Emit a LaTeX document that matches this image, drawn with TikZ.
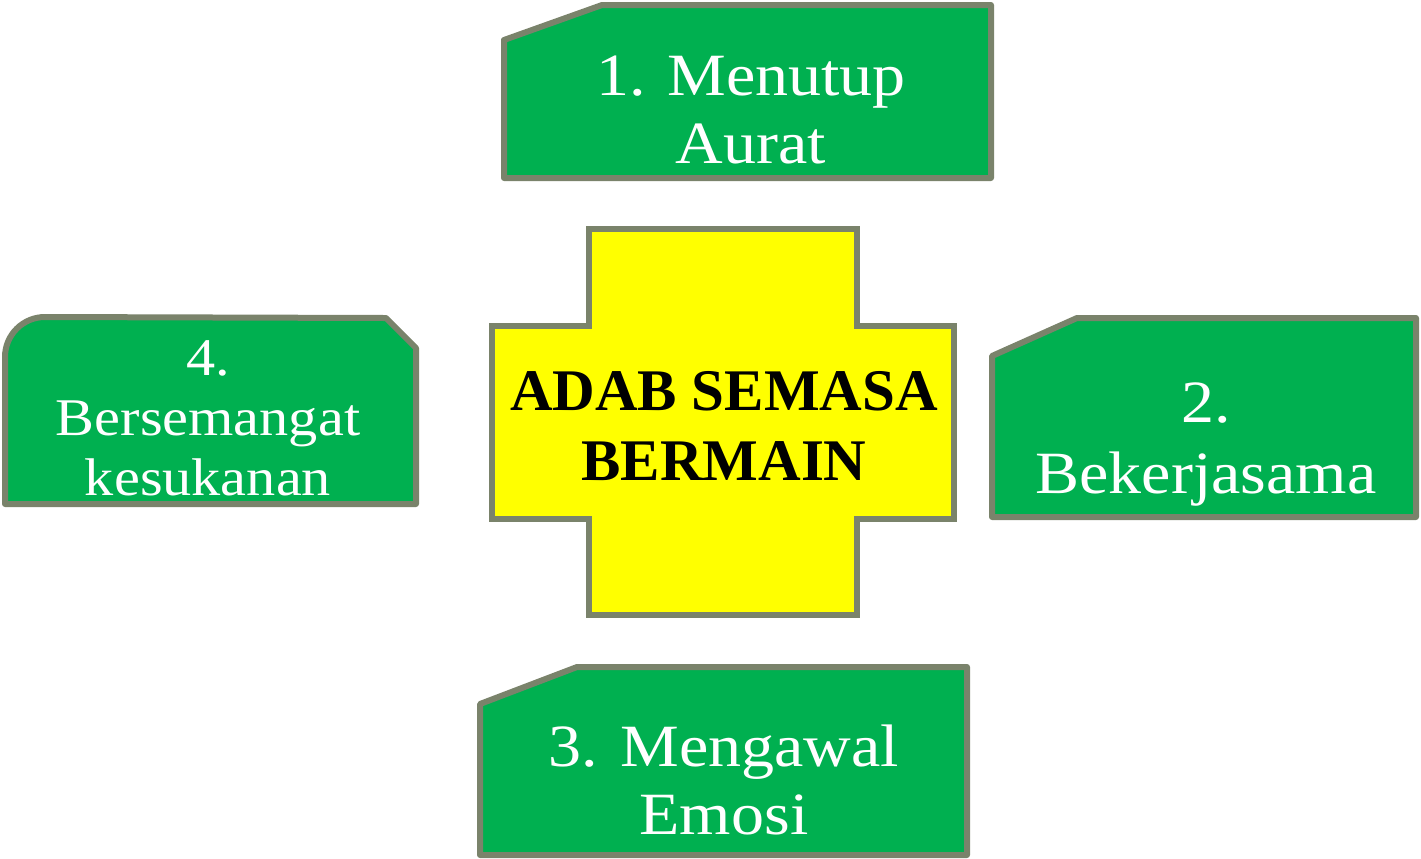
\documentclass[tikz,border=0pt]{standalone}
\usepackage{fontspec}
\setmainfont{Liberation Serif}
\newfontfamily\itemfont{Liberation Serif}[FakeStretch=1.1]
\definecolor{itemgreen}{RGB}{0,176,80}
\definecolor{edgegray}{RGB}{122,131,107}
\definecolor{crossyellow}{RGB}{255,255,0}

\begin{document}
\begin{tikzpicture}[x=0.5pt, y=-0.5pt,
  itembox/.style={fill=itemgreen, draw=edgegray, line width=3pt, line join=round},
  itemtext/.style={text=white, align=center, font=\itemfont\fontsize{30}{34}\selectfont}]
  \useasboundingbox (0,0) rectangle (1421,858);
  % Centre cross
  \draw[fill=crossyellow, draw=edgegray, line width=3pt]
    (589,229) -- (857,229) -- (857,326) -- (954,326) -- (954,519) -- (857,519)
    -- (857,615) -- (589,615) -- (589,519) -- (492,519) -- (492,326) -- (589,326) -- cycle;
  \node[align=center, font=\bfseries\fontsize{29.5}{35}\selectfont] (adab) at (724,426)
    {ADAB SEMASA\\BERMAIN};
  % Item boxes
  \draw[itembox] (504,40) -- (602,5) -- (991,5) -- (991,178) -- (504,178) -- cycle;
  \node[itemtext] (aurat) at (751,110) {1. Menutup\\Aurat};
  \draw[itembox] (992,356) -- (1077,318) -- (1416,318) -- (1416,517) -- (992,517) -- cycle;
  \node[itemtext, font=\itemfont\fontsize{30}{35.5}\selectfont] (kerjasama) at (1206,445)
    {2.\\Bekerjasama};
  \draw[itembox] (480,704) -- (577,667) -- (967,667) -- (967,855) -- (480,855) -- cycle;
  \node[itemtext] (emosi) at (724,780) {3. Mengawal\\Emosi};
  \draw[itembox] (5,504) -- (5,357) arc[start angle=180, end angle=270, radius=40]
    -- (386,318) -- (416,348) -- (416,504) -- cycle;
  \node[itemtext, font=\itemfont\fontsize{26.5}{30}\selectfont] (semangat) at (208,418)
    {4.\\Bersemangat\\kesukanan};
\end{tikzpicture}
\end{document}
